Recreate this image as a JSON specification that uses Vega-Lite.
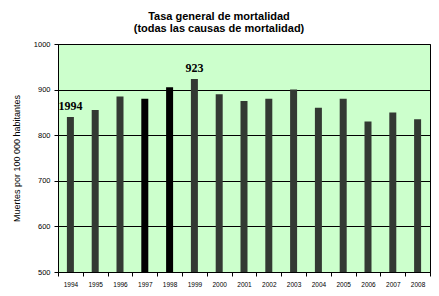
{
  "$schema": "https://vega.github.io/schema/vega-lite/v6.json",
  "autosize": "none",
  "width": 372,
  "height": 228,
  "padding": {"left": 58, "top": 44, "right": 9, "bottom": 24},
  "background": "white",
  "title": {
    "text": ["Tasa general de mortalidad", "(todas las causas de mortalidad)"],
    "font": "Liberation Sans",
    "fontSize": 11,
    "fontWeight": "bold",
    "color": "black",
    "anchor": "middle",
    "dx": -25,
    "offset": 6,
    "lineHeight": 12
  },
  "config": {
    "view": {"fill": "#ccffcc", "stroke": "black", "strokeWidth": 1},
    "axis": {"labelFont": "Liberation Sans", "titleFont": "Liberation Sans", "labelColor": "black", "titleColor": "black", "domainColor": "black", "tickColor": "black"}
  },
  "data": {
    "values": [
      {"year": "1994", "value": 840, "label": "1994", "kind": "normal"},
      {"year": "1995", "value": 855, "label": "", "kind": "normal"},
      {"year": "1996", "value": 885, "label": "", "kind": "normal"},
      {"year": "1997", "value": 880, "label": "", "kind": "dark"},
      {"year": "1998", "value": 905, "label": "", "kind": "dark"},
      {"year": "1999", "value": 923, "label": "923", "kind": "normal"},
      {"year": "2000", "value": 890, "label": "", "kind": "normal"},
      {"year": "2001", "value": 875, "label": "", "kind": "normal"},
      {"year": "2002", "value": 880, "label": "", "kind": "normal"},
      {"year": "2003", "value": 900, "label": "", "kind": "normal"},
      {"year": "2004", "value": 860, "label": "", "kind": "normal"},
      {"year": "2005", "value": 880, "label": "", "kind": "normal"},
      {"year": "2006", "value": 830, "label": "", "kind": "normal"},
      {"year": "2007", "value": 850, "label": "", "kind": "normal"},
      {"year": "2008", "value": 835, "label": "", "kind": "normal"}
    ]
  },
  "encoding": {
    "x": {
      "field": "year", "type": "ordinal",
      "scale": {"paddingInner": 0, "paddingOuter": 0},
      "axis": {"title": null, "labelAngle": 0, "labelFontSize": 6.5, "tickBand": "extent", "tickSize": 4, "labelPadding": 5, "domainColor": "black"}
    },
    "y": {
      "field": "value", "type": "quantitative",
      "scale": {"domain": [500, 1000], "nice": false, "zero": false},
      "axis": {"title": "Muertes por 100 000 habitantes", "values": [500, 600, 700, 800, 900, 1000], "format": "d", "gridColor": "black", "gridOpacity": 1, "gridWidth": 1, "labelFontSize": 7.5, "tickSize": 4, "labelPadding": 4, "titleFontSize": 9, "titleFontWeight": "normal", "titlePadding": 12}
    }
  },
  "layer": [
    {
      "mark": {"type": "bar", "size": 7, "clip": true},
      "encoding": {
        "y2": {"datum": 500},
        "color": {"field": "kind", "type": "nominal", "scale": {"domain": ["normal", "dark"], "range": ["#333933", "#000000"]}, "legend": null}
      }
    },
    {
      "mark": {"type": "text", "font": "Liberation Serif", "fontWeight": "bold", "fontSize": 12, "baseline": "bottom", "dy": -4, "color": "black"},
      "encoding": {"text": {"field": "label"}}
    }
  ]
}
